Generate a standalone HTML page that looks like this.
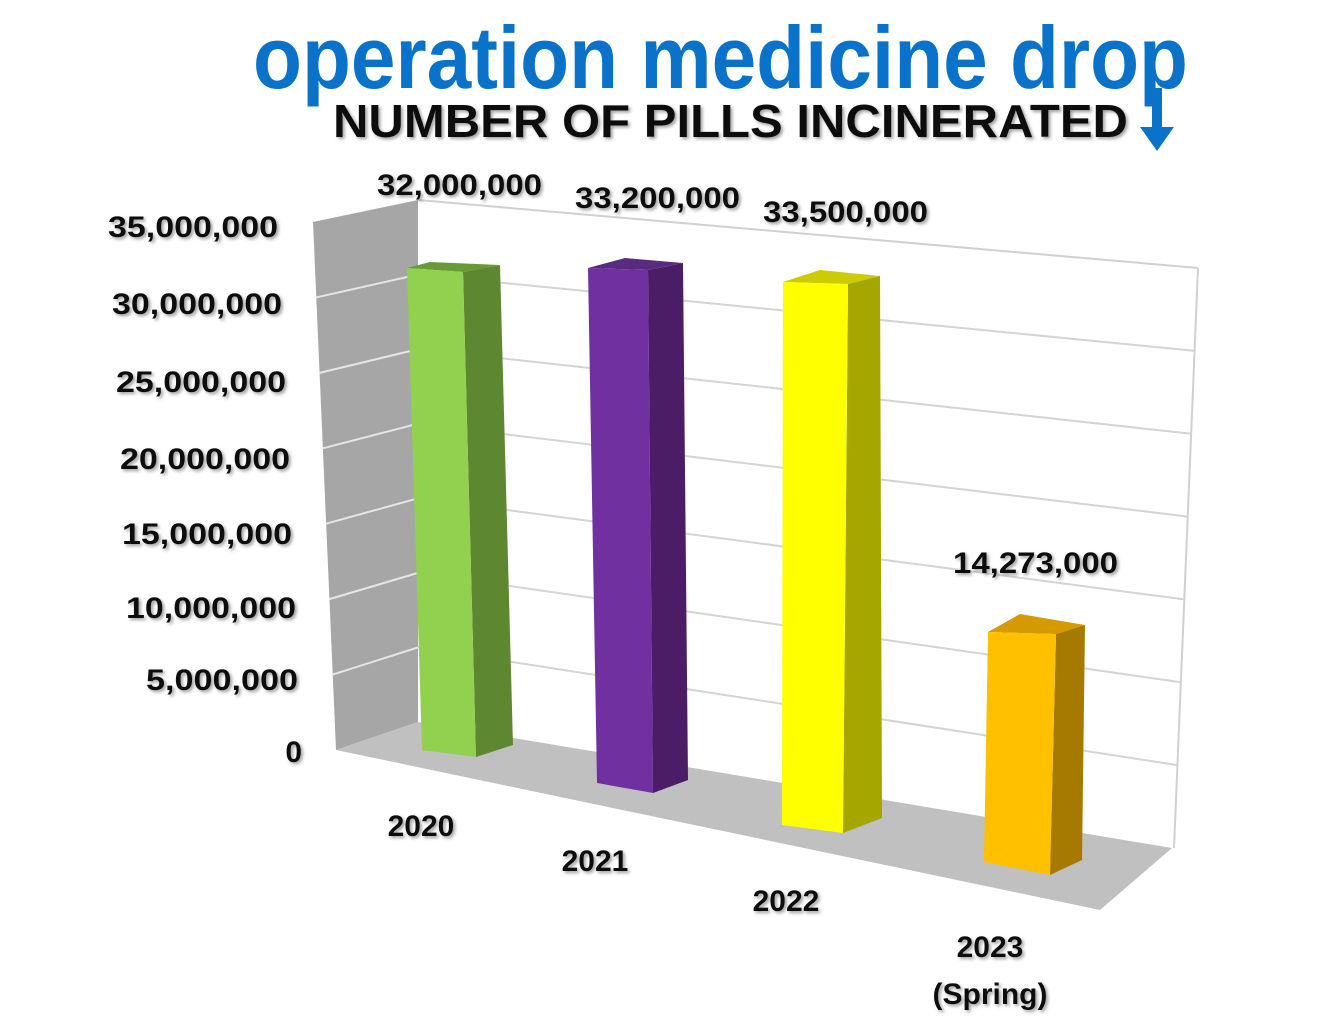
<!DOCTYPE html>
<html><head><meta charset="utf-8"><style>
html,body{margin:0;padding:0;background:#fff;}
svg{display:block}
text{font-family:"Liberation Sans",sans-serif;font-weight:bold;}
</style></head><body>
<svg width="1344" height="1028" viewBox="0 0 1344 1028" xmlns="http://www.w3.org/2000/svg">
<defs>
<filter id="sh" x="-5%" y="-20%" width="110%" height="150%"><feDropShadow dx="2" dy="2" stdDeviation="1.5" flood-color="#888" flood-opacity="0.8"/></filter>
</defs>
<!-- title -->
<text x="253" y="88" font-size="88" fill="#0a72c8" textLength="935" lengthAdjust="spacingAndGlyphs">operation medicine drop</text>
<rect x="1152" y="88" width="10" height="40" fill="#0a72c8"/>
<polygon points="1140,127 1174,127 1157,151" fill="#0a72c8"/>
<text x="333" y="137" font-size="46" fill="#111" textLength="795" lengthAdjust="spacingAndGlyphs" filter="url(#sh)">NUMBER OF PILLS INCINERATED</text>

<!-- side wall -->
<polygon points="313,222 418,200 418,722 336,750" fill="#a6a6a6"/>
<!-- floor -->
<polygon points="336,750 418,722 1172,848 1100,910" fill="#c0c0c0"/>
<!-- back wall -->
<polygon points="418,200 1198,268 1174,848 418,722" fill="#ffffff"/>
<g stroke="#d0d0d0" stroke-width="2" fill="none">
<line x1="418" y1="200" x2="1198" y2="268"/>
<line x1="1198" y1="268" x2="1174" y2="848"/>
</g>
<g id="grid" stroke="#d4d4d4" stroke-width="2"></g>
<script>
(function(){var g=document.getElementById('grid');var ns='http://www.w3.org/2000/svg';
for(var i=1;i<7;i++){var t=i/7;
var yl=722-(722-200)*t, xr=1174+(1198-1174)*t, yr=848-(848-268)*t;
var l=document.createElementNS(ns,'line');l.setAttribute('x1',418);l.setAttribute('y1',yl);l.setAttribute('x2',xr);l.setAttribute('y2',yr);g.appendChild(l);
var xf=336-(336-313)*t, yf=750-(750-222)*t;
var s=document.createElementNS(ns,'line');s.setAttribute('x1',xf);s.setAttribute('y1',yf);s.setAttribute('x2',418);s.setAttribute('y2',yl);s.setAttribute('stroke','#e6e6e6');g.appendChild(s);}
})();
</script>

<!-- green -->
<polygon points="407,268 430,262 500,265 463,272" fill="#6a9a35"/>
<polygon points="463,272 500,265 513,745 476,757" fill="#5e8732"/>
<polygon points="407,268 463,272 476,757 422,750" fill="#92d050"/>
<!-- purple -->
<polygon points="588,268 625,258 683,263 648,270" fill="#5a2a80"/>
<polygon points="648,270 683,263 688,780 653,793" fill="#4a1d66"/>
<polygon points="588,268 648,270 653,793 597,783" fill="#7030a0"/>
<!-- yellow -->
<polygon points="783,282 820,270 880,276 848,284" fill="#cccc00"/>
<polygon points="848,284 880,276 882,818 843,833" fill="#a6a600"/>
<polygon points="783,282 848,284 843,833 782,825" fill="#ffff00"/>
<!-- orange -->
<polygon points="988,632 1020,614 1085,625 1056,634" fill="#d49a00"/>
<polygon points="1056,634 1085,625 1082,860 1050,875" fill="#a67a00"/>
<polygon points="988,632 1056,634 1050,875 984,862" fill="#ffc000"/>

<!-- y labels -->
<g font-size="30" fill="#111" text-anchor="end" filter="url(#sh)">
<text x="278" y="237" textLength="170" lengthAdjust="spacingAndGlyphs">35,000,000</text>
<text x="282" y="314" textLength="170" lengthAdjust="spacingAndGlyphs">30,000,000</text>
<text x="286" y="392" textLength="170" lengthAdjust="spacingAndGlyphs">25,000,000</text>
<text x="290" y="469" textLength="170" lengthAdjust="spacingAndGlyphs">20,000,000</text>
<text x="292" y="544" textLength="170" lengthAdjust="spacingAndGlyphs">15,000,000</text>
<text x="296" y="618" textLength="170" lengthAdjust="spacingAndGlyphs">10,000,000</text>
<text x="298" y="690" textLength="152" lengthAdjust="spacingAndGlyphs">5,000,000</text>
<text x="302" y="762">0</text>
</g>
<!-- data labels -->
<g font-size="30" fill="#111" filter="url(#sh)">
<text x="377" y="195" textLength="165" lengthAdjust="spacingAndGlyphs">32,000,000</text>
<text x="575" y="208" textLength="165" lengthAdjust="spacingAndGlyphs">33,200,000</text>
<text x="763" y="222" textLength="165" lengthAdjust="spacingAndGlyphs">33,500,000</text>
<text x="953" y="573" textLength="165" lengthAdjust="spacingAndGlyphs">14,273,000</text>
</g>
<!-- x labels -->
<g font-size="30" fill="#111" text-anchor="middle" filter="url(#sh)">
<text x="421" y="836">2020</text>
<text x="595" y="871">2021</text>
<text x="786" y="911">2022</text>
<text x="990" y="957">2023</text>
<text x="990" y="1004">(Spring)</text>
</g>
</svg>
</body></html>
